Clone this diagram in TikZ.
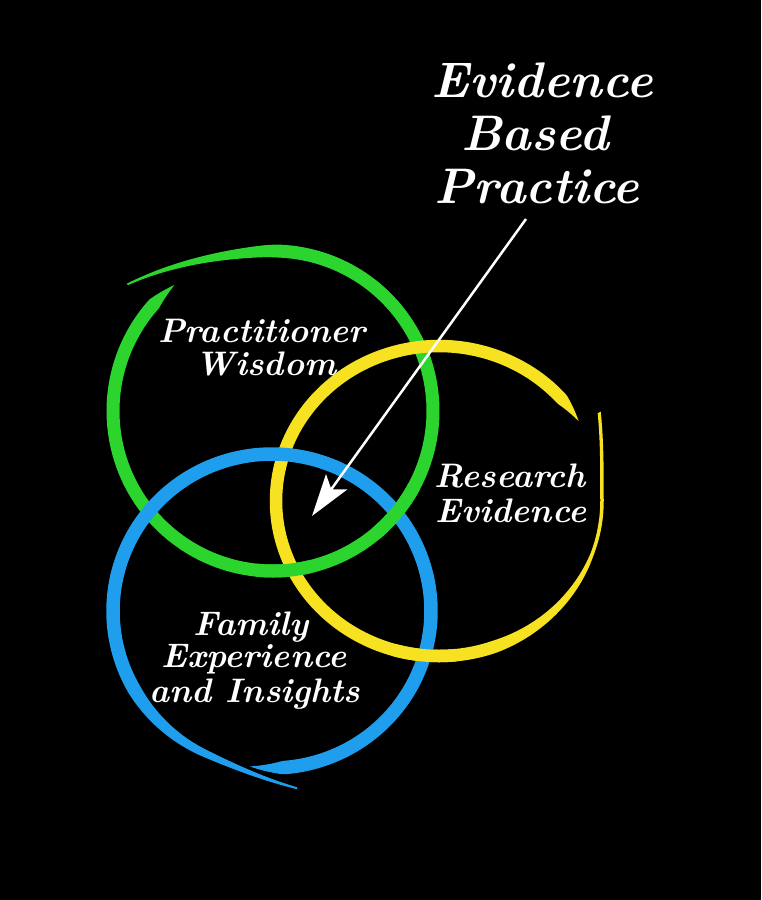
\documentclass[tikz,border=0pt]{standalone}
\usetikzlibrary{arrows.meta}
\definecolor{gcol}{RGB}{44,212,46}
\definecolor{ycol}{RGB}{246,226,32}
\definecolor{bcol}{RGB}{30,158,236}
\tikzset{
  declare function={
    gr(\t)=160+33*(max(0,(\t-95)/44))^2;
    gw(\t)=13*min(1,min(0.15+(139-\t)/60,(\t+232)/10));
    yex(\t)=22*(max(0,\t/30))^2;
    yw(\t)=(3.5+9*min(1,max(0,(-20-\t)/50)))*min(1,(\t+329)/10);
    bex(\t)=22*(max(0,(\t-245)/33))^2;
    bw(\t)=13.5*min(1,min(0.15+(278-\t)/80,(\t+98)/12));
  },
  lbl/.style={text=white, font=\bfseries\itshape\fontsize{34}{36}\selectfont, anchor=base, inner sep=0pt},
  ttl/.style={text=white, font=\bfseries\itshape\fontsize{50}{53}\selectfont, anchor=base, inner sep=0pt},
}
\newcommand\gband[2]{\fill[gcol] plot[domain=#1:#2, samples=300, variable=\t]
  ({273+(gr(\t)+gw(\t)/2)*cos(\t)},{411-(gr(\t)+gw(\t)/2)*sin(\t)})
  -- plot[domain=#2:#1, samples=300, variable=\t]
  ({273+(gr(\t)-gw(\t)/2)*cos(\t)},{411-(gr(\t)-gw(\t)/2)*sin(\t)}) -- cycle;}
\newcommand\yband[2]{\fill[ycol] plot[domain=#1:#2, samples=300, variable=\t]
  ({439+(163+yex(\t)+yw(\t)/2)*cos(\t)},{501-(155+yex(\t)+yw(\t)/2)*sin(\t)})
  -- plot[domain=#2:#1, samples=300, variable=\t]
  ({439+(163+yex(\t)-yw(\t)/2)*cos(\t)},{501-(155+yex(\t)-yw(\t)/2)*sin(\t)}) -- cycle;}
\newcommand\bband[2]{\fill[bcol] plot[domain=#1:#2, samples=300, variable=\t]
  ({272+(159+bex(\t)+bw(\t)/2)*cos(\t)},{611-(157+bex(\t)+bw(\t)/2)*sin(\t)})
  -- plot[domain=#2:#1, samples=300, variable=\t]
  ({272+(159+bex(\t)-bw(\t)/2)*cos(\t)},{611-(157+bex(\t)-bw(\t)/2)*sin(\t)}) -- cycle;}
\begin{document}
\begin{tikzpicture}[x=1pt,y=-1pt]
  \fill[black] (0,0) rectangle (761,900);
  \useasboundingbox (0,0) rectangle (761,900);
  % circles
  \gband{139}{-232}
  \yband{30}{-329}
  \bband{278}{-98}
  % interlacing: parts that lie on top
  \gband{-76}{-96}
  \gband{-28}{-50}
  \yband{-84}{-106}
  % arrow
  \coordinate (arrS) at (526,219);
  \coordinate (arrE) at (312,516);
  \draw[white, line width=2.5pt, -{Stealth[length=42pt, width=26pt, inset=9pt]}] (arrS) -- (arrE);
  % texts
  \node[ttl] (t1) at (542,97) {Evidence};
  \node[ttl] (t2) at (535,150) {Based};
  \node[ttl] (t3) at (537,203) {Practice};
  \node[lbl] (p1) at (262,342) {Practitioner};
  \node[lbl] (p2) at (266,375) {Wisdom};
  \node[lbl] (r1) at (510,487) {Research};
  \node[lbl] (r2) at (511,522) {Evidence};
  \node[lbl] (f1) at (251,635) {Family};
  \node[lbl] (f2) at (254,667) {Experience};
  \node[lbl] (f3) at (255,702) {and Insights};
\end{tikzpicture}
\end{document}
